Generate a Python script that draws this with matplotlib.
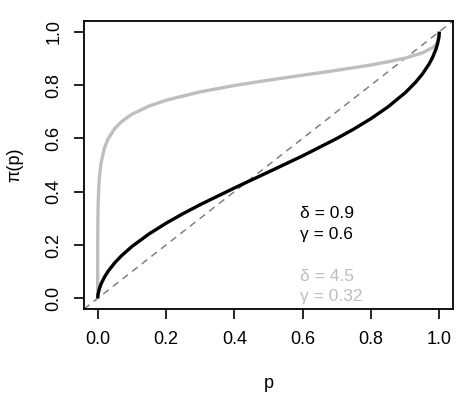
import matplotlib
matplotlib.use("Agg")
from matplotlib import pyplot as plt

plt.rcParams['font.family'] = ['Liberation Sans', 'DejaVu Sans']

# delta = 0.9, gamma = 0.6 (black curve)
p_black = [0, 0.001, 0.005, 0.01, 0.02, 0.03, 0.05, 0.07, 0.1, 0.15, 0.2, 0.25, 0.3,
           0.4, 0.5, 0.6, 0.7, 0.75, 0.8, 0.85, 0.9, 0.93, 0.95, 0.97, 0.98, 0.99,
           0.995, 0.999, 1]
pi_black = [0, 0.0141, 0.0362, 0.0541, 0.0801, 0.1005, 0.1333, 0.1601, 0.1941, 0.2412,
            0.2815, 0.3177, 0.3512, 0.4137, 0.4737, 0.5344, 0.5995, 0.6350, 0.6740,
            0.7182, 0.7708, 0.8095, 0.8404, 0.8787, 0.9029, 0.9341, 0.9556, 0.9827, 1]

# delta = 4.5, gamma = 0.32 (grey curve)
p_grey = [0, 0.000001, 0.00001, 0.0001, 0.0003, 0.001, 0.003, 0.005, 0.01, 0.02, 0.03,
          0.05, 0.07, 0.1, 0.15, 0.2, 0.3, 0.4, 0.5, 0.6, 0.7, 0.8, 0.85, 0.9, 0.95,
          0.98, 0.99, 0.995, 0.999, 1]
pi_grey = [0, 0.0514, 0.1016, 0.1911, 0.2514, 0.3305, 0.4124, 0.4527, 0.5084, 0.5643,
           0.5967, 0.6369, 0.6629, 0.6902, 0.7209, 0.7428, 0.7743, 0.7981, 0.8182,
           0.8367, 0.8551, 0.8752, 0.8869, 0.9009, 0.9203, 0.9399, 0.9514, 0.9608,
           0.9762, 1]

grey = "#bebebe"

fig = plt.figure(figsize=(4.74, 3.94), dpi=100)
ax = fig.add_axes([84/474, 85/394, 369/474, 288/394])

ax.axline((0, 0), (1, 1), color="#808080", lw=1.1, ls=(0, (4.5, 3.5)), zorder=1)
ax.plot(p_grey, pi_grey, color=grey, lw=2.4, solid_capstyle="butt", zorder=2)
ax.plot(p_black, pi_black, color="black", lw=2.4, solid_capstyle="butt", zorder=3)

ax.text(0.592, 0.32, "δ = 0.9", fontsize=12.5, va="center", ha="left")
ax.text(0.592, 0.238, "γ = 0.6", fontsize=12.5, va="center", ha="left")
ax.text(0.592, 0.082, "δ = 4.5", fontsize=12.5, va="center", ha="left", color=grey)
ax.text(0.592, 0.005, "γ = 0.32", fontsize=12.5, va="center", ha="left", color=grey)

ax.set_xlim(-0.04, 1.04)
ax.set_ylim(-0.04, 1.04)
ticks = [0, 0.2, 0.4, 0.6, 0.8, 1.0]
ax.set_xticks(ticks)
ax.set_yticks(ticks)
ax.set_xticklabels(["0.0", "0.2", "0.4", "0.6", "0.8", "1.0"], fontsize=13)
ax.set_yticklabels(["0.0", "0.2", "0.4", "0.6", "0.8", "1.0"], fontsize=13,
                   rotation=90, va="center")
ax.tick_params(length=7.5, width=1.2, pad=8)
for s in ax.spines.values():
    s.set_linewidth(1.3)

ax.set_xlabel("p", fontsize=13, labelpad=20)
ax.set_ylabel("π(p)", fontsize=13, labelpad=16)

fig.savefig("out.png", dpi=100)
